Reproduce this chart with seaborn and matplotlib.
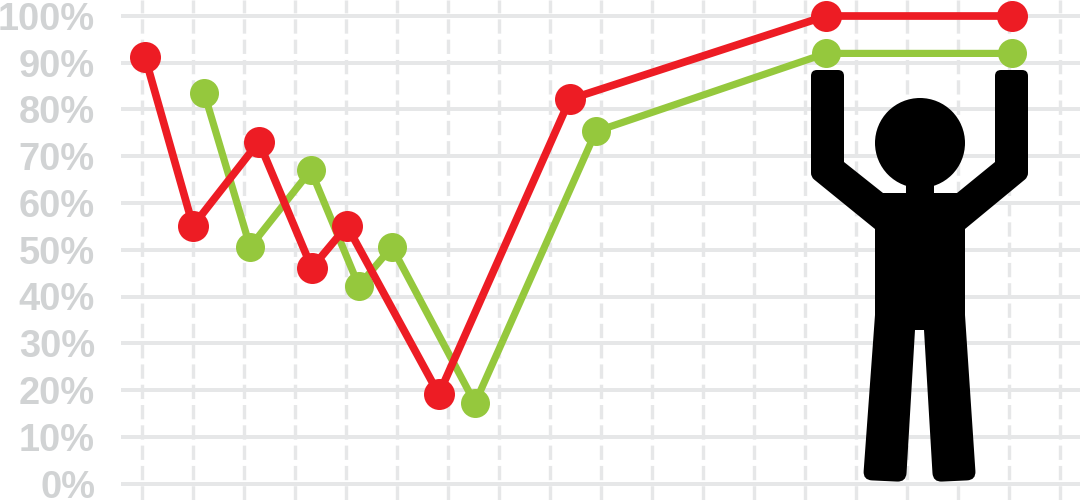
import numpy as np
import pandas as pd
import matplotlib
matplotlib.use("Agg")
import matplotlib.pyplot as plt
from matplotlib.patches import PathPatch, Circle
from matplotlib.path import Path
from matplotlib.transforms import Affine2D
import seaborn as sns

# Data
red_x = [0.06, 1.0, 2.29, 3.33, 4.02, 5.82, 8.39, 13.41, 17.06]
red_y = [91.2, 55.1, 73.1, 46.1, 55.1, 19.1, 82.2, 100, 100]
green_x = [1.22, 2.12, 3.31, 4.25, 4.90, 6.53, 8.90, 13.41, 17.06]
green_y = [83.5, 50.6, 67.0, 42.3, 50.6, 17.2, 75.3, 92, 92]
y_ticks = [0, 10, 20, 30, 40, 50, 60, 70, 80, 90, 100]
y_labels = [f"{v}%" for v in y_ticks]
x_ticks = list(range(19))

sns.set_theme(style="white")
plt.rcParams["font.family"] = ["Liberation Sans", "DejaVu Sans"]

W, H = 1080, 500
fig = plt.figure(figsize=(W / 100, H / 100), dpi=100, facecolor="white")
ax = fig.add_axes([121 / W, 0, (W - 121) / W, 1])

GREEN = "#95c83d"
RED = "#ed1c24"
GRID = "#e6e7e8"
LABEL = "#d1d3d4"
PX = 0.72  # points per pixel

df_green = pd.DataFrame({"x": green_x, "y": green_y})
df_red = pd.DataFrame({"x": red_x, "y": red_y})
sns.lineplot(data=df_green, x="x", y="y", sort=False, estimator=None, ax=ax,
             color=GREEN, linewidth=7.2 * PX, marker="o", markersize=29 * PX,
             markeredgewidth=0, zorder=3, clip_on=False)
sns.lineplot(data=df_red, x="x", y="y", sort=False, estimator=None, ax=ax,
             color=RED, linewidth=7.7 * PX, marker="o", markersize=31 * PX,
             markeredgewidth=0, zorder=4, clip_on=False)

ax.set_xlim((121 - 142) / 51, (1080 - 142) / 51)
ax.set_ylim((483.5 - 500) / 4.675, 483.5 / 4.675)
ax.set_xticks(x_ticks)
ax.set_xticklabels([])
ax.set_yticks(y_ticks)
ax.set_yticklabels(y_labels, fontsize=38 * PX, fontweight="bold", color=LABEL)
ax.tick_params(axis="both", length=0)
ax.tick_params(axis="y", pad=26 * PX)
ax.set_xlabel("")
ax.set_ylabel("")
for s in ax.spines.values():
    s.set_visible(False)
ax.set_axisbelow(True)
ax.grid(axis="y", color=GRID, linewidth=4 * PX, linestyle="-")
ax.grid(axis="x", color=GRID, linewidth=3.4 * PX, linestyle=(0, (4.2, 1.77)))

# Pictogram drawn in pixel space
px_tf = Affine2D().scale(1, -1).translate(0, H)
outline = [
    (811, 70, 6), (844, 70, 6), (844, 162, 0), (883, 193, 0), (906, 193, 0),
    (906, 170, 0), (934, 170, 0), (934, 193, 0), (957, 193, 0), (995, 162, 0),
    (995, 70, 6), (1028, 70, 6), (1028, 177, 4), (965, 229, 0), (965, 315, 0),
    (976, 480, 9), (933, 482, 9), (924, 330, 0), (915, 330, 0), (906, 482, 9),
    (863, 480, 9), (875, 315, 0), (875, 229, 0), (811, 177, 4),
]

def rounded_path(pts):
    verts, codes = [], []
    n = len(pts)
    for i, (x, y, r) in enumerate(pts):
        p = np.array([x, y], float)
        if r == 0:
            verts.append(p)
            codes.append(Path.MOVETO if i == 0 else Path.LINETO)
            continue
        prev = np.array(pts[i - 1][:2], float)
        nxt = np.array(pts[(i + 1) % n][:2], float)
        a = p + (prev - p) / np.linalg.norm(prev - p) * r
        b = p + (nxt - p) / np.linalg.norm(nxt - p) * r
        verts += [a, p, b]
        codes += [Path.MOVETO if i == 0 else Path.LINETO, Path.CURVE3, Path.CURVE3]
    verts.append(verts[0])
    codes.append(Path.CLOSEPOLY)
    return Path(np.array(verts), codes)

fig.add_artist(PathPatch(rounded_path(outline), facecolor="black", edgecolor="none",
                         transform=px_tf, zorder=5))
fig.add_artist(Circle((920, 143), 45, facecolor="black", edgecolor="none",
                      transform=px_tf, zorder=5))

fig.savefig("out.png", dpi=100, facecolor="white")
